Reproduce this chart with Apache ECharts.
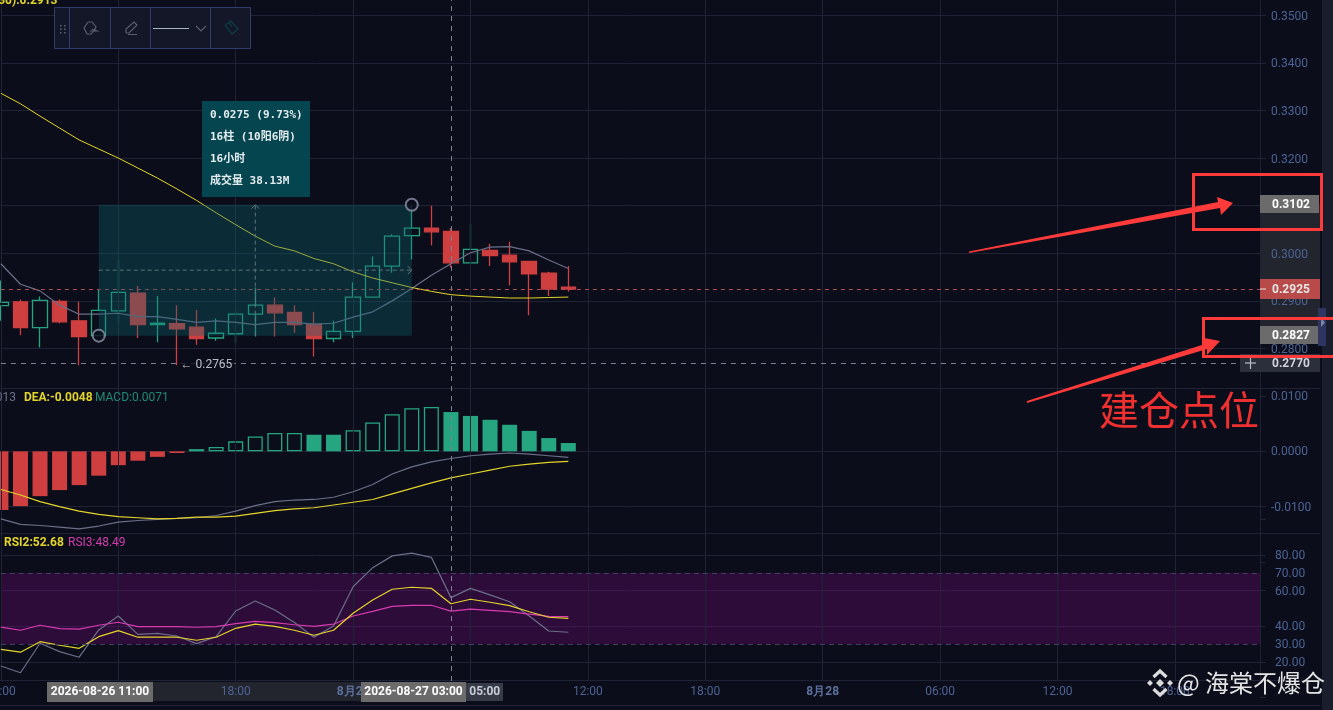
<!DOCTYPE html>
<html><head><meta charset="utf-8">
<style>html,body{margin:0;padding:0;background:#0b0e1a}#c{width:1333px;height:710px}</style>
<script src="https://cdn.jsdelivr.net/npm/echarts@6/dist/echarts.min.js"></script>
</head><body><div id="c"></div>
<script>
const hours=[6,7,8,9,10,11,12,13,14,15,16,17,18,19,20,21,22,23,24,25,26,27,28,29,30,31,32,33,34,35];
const opens=[.2890,.2898,.2844,.2899,.2858,.2827,.2879,.2916,.2850,.2852,.2845,.2822,.2831,.2872,.2891,.2876,.2851,.2821,.2836,.2908,.2973,.3037,.3053,.3046,.2980,.3006,.2996,.2983,.2958,.2929];
const closes=[.2897,.2844,.2901,.2856,.2825,.2880,.2918,.2850,.2853,.2841,.2821,.2832,.2872,.2891,.2875,.2850,.2821,.2836,.2908,.2973,.3036,.3053,.3045,.2980,.3008,.2995,.2982,.2957,.2925,.2925];
const lows=[.2858,.2828,.2802,.2853,.2765,.2827,.2854,.2822,.2813,.2765,.2808,.2816,.2812,.2825,.2825,.2833,.2783,.2813,.2822,.2908,.2959,.2987,.3017,.2970,.2980,.2973,.2933,.2870,.2910,.2919];
const highs=[.2943,.2903,.2909,.2903,.2898,.2925,.2987,.2931,.2910,.2891,.2881,.2863,.2879,.2928,.2907,.2891,.2877,.2858,.2939,.2993,.3040,.3102,.3100,.3053,.3061,.3020,.3024,.2983,.2961,.2973];
const maFast=[.2978,.2935,.2921,.2891,.2872,.2872,.2874,.2867,.2867,.2861,.2855,.2858,.2855,.2850,.2855,.2855,.2851,.2853,.2866,.2877,.2900,.2926,.2954,.2978,.3001,.3013,.3014,.3005,.2986,.2968];
const maSlow=[.3336,.3314,.3288,.3263,.3238,.3219,.3200,.3179,.3158,.3135,.3111,.3085,.3060,.3036,.3015,.3005,.2989,.2978,.2961,.2948,.2938,.2928,.2920,.2913,.2910,.2908,.2906,.2906,.2907,.2908];
const macdHist=[-.0106,-.0099,-.0081,-.0070,-.0061,-.0044,-.0025,-.0017,-.0010,-.0003,.0004,.0008,.0018,.0027,.0033,.0033,.0030,.0030,.0038,.0052,.0067,.0078,.0080,.0071,.0064,.0057,.0048,.0037,.0024,.0015];
const macdSolid=[1,1,1,1,1,1,1,1,1,1,1,0,0,0,0,0,1,1,0,0,0,0,0,1,1,1,1,1,1,1];
const dif=[-.0122,-.0132,-.0134,-.0137,-.0140,-.0135,-.0128,-.0125,-.0123,-.0121,-.0120,-.0116,-.0108,-.0098,-.0091,-.0088,-.0087,-.0083,-.0073,-.0060,-.0041,-.0028,-.0019,-.0013,-.0008,-.0005,-.0003,-.0005,-.0008,-.0011];
const dea=[-.0069,-.0079,-.0091,-.0100,-.0108,-.0114,-.0118,-.0120,-.0122,-.0121,-.0119,-.0119,-.0117,-.0112,-.0107,-.0104,-.0102,-.0097,-.0092,-.0087,-.0077,-.0067,-.0057,-.0048,-.0041,-.0034,-.0027,-.0023,-.0020,-.0018];
const rsi1=[17.8,14.0,30.5,25.8,22.7,38.0,45.8,35.5,36.1,34.6,30.3,34.2,48.6,54.2,49.2,42.1,33.9,40.2,62.2,72.9,79.5,81.0,78.7,56.1,61.3,57.6,53.8,45.8,37.4,36.7];
const rsi2=[27.1,25.5,31.4,29.4,27.7,34.2,37.6,33.9,33.9,33.9,32.2,33.9,38.9,41.2,40.0,37.8,35.0,37.8,47.3,54.8,60.8,61.9,61.3,52.68,55.2,53.5,51.6,48.2,45.1,44.5];
const rsi3=[39.6,37.8,40.6,38.7,38.4,40.6,42.3,39.8,39.8,39.8,39.5,39.8,41.5,42.8,42.1,40.9,40.0,41.2,45.8,48.4,51.2,51.8,51.8,48.49,49.6,49.0,48.2,46.9,45.6,45.4];
const measure={startHour:11,endHour:27,low:.2827,high:.3102};
const lastPrice=.2925,crossPrice=.2770,lowPrice=.2765,lowHour=15,crossHour=29;
const rsiBand=[30,70];
const tooltipLines=['0.0275 (9.73%)','16柱 (10阳6阴)','16小时','成交量 38.13M'];

const BG='#0b0e1a',GRID='#1f2335',LAB='#4c6394',GREEN='#26a680',RED='#cf3f3f',YEL='#e3d42a',GREY='#6b6f88',MAG='#d63cae',ANN='#ff3a3a';
const XMIN=6,XMAX=70.35;
const pair=(a)=>hours.map((h,i)=>[h,a[i]]);
const labelFont={fontFamily:'Roboto',fontSize:12,color:LAB};
const richLabel=(pad)=>({a:{fontFamily:'Roboto',fontSize:12,color:LAB,padding:[pad,0,0,0]}});
function hiddenX(i){return {type:'value',gridIndex:i,min:XMIN,max:XMAX,show:false};}
function yCommon(i,min,max,interval,fmt,margin,pad){return {type:'value',gridIndex:i,position:'right',min,max,interval,
  axisLine:{show:false},axisTick:{show:true,length:6,lineStyle:{color:GRID}},
  splitLine:{show:true,showMinLine:false,showMaxLine:false,lineStyle:{color:GRID,width:1}},
  axisLabel:Object.assign({},labelFont,{formatter:(v)=>{const s=fmt(v);return s?'{a|'+s+'}':'';},rich:richLabel(pad),margin,hideOverlap:false,showMinLabel:true,showMaxLabel:true})};}

const T=(x,y,text,fill,font,extra)=>Object.assign({type:'text',z:60,x,y:y+1.5,style:Object.assign({text,fill,font,align:'left',textAlign:'left',verticalAlign:'middle',textVerticalAlign:'middle'},extra&&extra.style||{})},extra&&extra.el||{});
const R=(x,y,w,h,fill,z,stroke,lw)=>({type:'rect',z:z==null?50:z,shape:{x,y,width:w,height:h},style:{fill:fill||'none',stroke:stroke||null,lineWidth:lw||0}});
const L=(pts,stroke,lw,z)=>({type:'polyline',z:z==null?61:z,shape:{points:pts},style:{fill:'none',stroke,lineWidth:lw||1}});
const P=(pts,fill,z)=>({type:'polygon',z:z==null?70:z,shape:{points:pts},style:{fill}});
const graphics=[
  // separators
  L([[0,388.5],[1320,388.5]],GRID,1,1),L([[0,533.5],[1320,533.5]],GRID,1,1),L([[0,680.5],[1320,680.5]],GRID,1,1),L([[0,705.5],[1320,705.5]],GRID,1,1),
  // right strip
  R(1322,0,11,710,'#1a1d2b',1),
  // measure range on axes
  R(1260,204,60,131,'#22252e',-1),
  R(99,682,314,19,'#22252e',-1),
  // legends
  T(-6,-1,'(30):0.2913',YEL,'bold 12px Roboto'),
  T(-45,396,'DIF:-0.0013',GREY,'12px Roboto'),
  T(24,396,'DEA:-0.0048',YEL,'bold 12px Roboto'),
  T(95,396,'MACD:0.0071','#1f8a75','12px Roboto'),
  T(4,541,'RSI2:52.68',YEL,'bold 12px Roboto'),
  T(68,541,'RSI3:48.49',MAG,'12px Roboto'),
  // toolbar
  R(54.5,7.5,196,41,'#131728',55,'#333b6b',1),
  L([[69.5,7.5],[69.5,48.5]],'#333b6b',1,56),L([[110.5,7.5],[110.5,48.5]],'#333b6b',1,56),L([[150.5,7.5],[150.5,48.5]],'#333b6b',1,56),L([[210.5,7.5],[210.5,48.5]],'#333b6b',1,56),
  ...[[60,25],[64,25],[60,28.5],[64,28.5],[60,32],[64,32]].map(p=>R(p[0],p[1],1.6,1.6,'#5a5f75',57)),
  L([[88,22],[92,22],[96,27],[94,31],[91,34],[87,34],[84,28],[88,22]],'#5a5e6e',1.2,57),
  L([[90,31],[97,31],[92,29]],'#5a5e6e',1.2,57),
  L([[126,33],[126,29],[134,22],[137,25],[129,33],[126,33]],'#5a5e6e',1.2,57),L([[128,34.5],[137,34.5]],'#5a5e6e',1,57),
  L([[153,28.5],[189,28.5]],'#a6b8bd',1,57),
  L([[196,26],[201,31],[206,26]],'#5a5e6e',1.2,57),
  L([[225,25],[231,21],[238,29],[232,34],[225,25]],'#0f3c44',1.3,57),L([[229,22],[232,27]],'#0f3c44',1.3,57),
  // tooltip
  R(202,101,108,96,'#05454f',58),
  T(210,113.5,tooltipLines[0],'#e4ecee','bold 11px "DejaVu Sans Mono","Noto Sans CJK SC"'),
  T(210,135.5,tooltipLines[1],'#e4ecee','bold 11px "DejaVu Sans Mono","Noto Sans CJK SC"'),
  T(210,157.5,tooltipLines[2],'#e4ecee','bold 11px "DejaVu Sans Mono","Noto Sans CJK SC"'),
  T(210,179.5,tooltipLines[3],'#e4ecee','bold 11px "DejaVu Sans Mono","Noto Sans CJK SC"'),
  // price tags
  R(1260,279,60,20,'#b84a4a',55),L([[1260,289],[1266,289]],'#e8e8e8',1,56),T(1272,288.5,'0.2925','#e6e6e6','bold 12px Roboto'),
  R(1260,195,59,18,'#6b6b6b',55),T(1272,203.5,'0.3102','#ffffff','bold 12px Roboto'),
  R(1260,326,59,18,'#6b6b6b',55),T(1272,334.5,'0.2827','#ffffff','bold 12px Roboto'),
  R(1240,354,80,18,'#2b2f3b',55),L([[1245,363],[1256,363]],'#b8bcc6',1.2,56),L([[1250.5,358],[1250.5,369]],'#b8bcc6',1.2,56),T(1272,362.5,'0.2770','#d0d3da','bold 12px Roboto'),
  R(1318,308,8,38,'#2f3560',56),P([[1321,318],[1321,327],[1325,322.5]],'#7d84a8',57),
  // x crosshair labels
  R(399,683,104,18,'#363b47',52),T(451,690.5,'2026-08-27 05:00','#c7ccd6','bold 12px Roboto',{el:{z:53},style:{align:'center',textAlign:'center'}}),
  R(47,682,106,20,'#6b6b6b',55),T(100,690.5,'2026-08-26 11:00','#ffffff','bold 12px Roboto',{style:{align:'center',textAlign:'center'}}),
  R(361,682,105,20,'#6b6b6b',55),T(413.5,690.5,'2026-08-27 03:00','#ffffff','bold 12px Roboto',{style:{align:'center',textAlign:'center'}}),
  // annotations
  R(1193.5,174.5,128,55,'none',70,ANN,3),
  L([[1340,318.5],[1203.5,318.5],[1203.5,356.5],[1340,356.5]],ANN,3,70),
  P([[969,251.5],[1218,202],[1217,197],[1233,203],[1221,215],[1220,208],[969,253]],ANN),
  P([[1027,401],[1205,344],[1204,338],[1220,341],[1207,355],[1207,349],[1027,403]],ANN),
  T(1099,408.5,'建仓点位','#f03030','40px "Noto Sans CJK SC"',{el:{z:70}}),
  // watermark
  P([[1160,679],[1164,683],[1160,687],[1156,683]],'#dcdcdc',80),
  P([[1150,680],[1153,683],[1150,686],[1147,683]],'#dcdcdc',80),
  P([[1170,680],[1173,683],[1170,686],[1167,683]],'#dcdcdc',80),
  L([[1153.5,677],[1160,671],[1166.5,677]],'#dcdcdc',3.2,80),
  L([[1153.5,689],[1160,695],[1166.5,689]],'#dcdcdc',3.2,80),
  T(1177,681.5,'@ 海棠不爆仓','#e4e4e4','24px "Noto Sans CJK SC"',{el:{z:80},style:{shadowBlur:2,shadowColor:'#000',shadowOffsetX:1,shadowOffsetY:1}})
];

const chart=echarts.init(document.getElementById('c'),null,{renderer:'canvas',width:1333,height:710});
const xFmt=(v)=>{if(v%6!==0)return '';if(v%24===0)return '{d|8月'+(26+v/24)+'}';const h=v%24;return (h<10?'0':'')+h+':00';};
const gridBase={left:.9,width:1259.1,outerBoundsMode:'none',containLabel:false};
const priceLine=(value,color,dash)=>({type:'line',xAxisIndex:1,yAxisIndex:1,data:[],silent:true,z:3,
  markLine:{silent:true,symbol:'none',precision:4,label:{show:false},animation:false,lineStyle:{color,type:dash,width:1},data:[{yAxis:value}]}});
chart.setOption({
  animation:false,backgroundColor:BG,
  grid:[
    Object.assign({top:0,height:681},gridBase),
    Object.assign({top:-32.4,height:428.5},gridBase),
    Object.assign({top:396,height:166},gridBase),
    Object.assign({top:519.3,height:178.4},gridBase)
  ],
  xAxis:[
    {type:'value',gridIndex:0,min:XMIN,max:XMAX,interval:6,z:3,
      axisLine:{show:false},axisTick:{show:false},
      splitLine:{show:true,showMaxLine:false,lineStyle:{color:GRID,width:1}},
      axisLabel:{fontFamily:'Roboto',fontSize:12,color:LAB,margin:5,formatter:xFmt,showMinLabel:true,showMaxLabel:false,hideOverlap:false,
        rich:{d:{fontFamily:'Roboto',fontSize:12,fontWeight:'bold',color:'#5d6f9c'}}}},
    hiddenX(1),hiddenX(2),hiddenX(3)
  ],
  yAxis:[
    {type:'value',gridIndex:0,position:'right',min:0,max:1,axisLine:{show:true,onZero:false,lineStyle:{color:GRID}},axisTick:{show:false},axisLabel:{show:false},splitLine:{show:false}},
    yCommon(1,.27,.36,.01,(v)=>{const r=Math.round(v*100)/100;return (r===.27||r===.36)?'':v.toFixed(4);},11,3),
    yCommon(2,-.02,.01,.01,(v)=>Math.abs(v+.02)<1e-9?'':(Math.abs(v)<1e-9?'0.0000':v.toFixed(4)),11,2),
    yCommon(3,0,100,20,(v)=>(v===0||v===100)?'':v.toFixed(2),15,2)
  ],
  series:[
    {type:'line',xAxisIndex:0,yAxisIndex:0,data:[],silent:true,z:6,
      markLine:{silent:true,symbol:'none',label:{show:false},animation:false,lineStyle:{color:'#7d8196',type:[5,5],width:1},data:[{xAxis:crossHour}]}},
    priceLine(lastPrice,'#b04a52',[4,4]),
    priceLine(crossPrice,'#7d8196',[5,5]),
    {type:'candlestick',xAxisIndex:1,yAxisIndex:1,barWidth:15,
      data:hours.map((h,i)=>[h,opens[i],closes[i],lows[i],highs[i]]),
      itemStyle:{color:'rgba(0,0,0,0)',color0:RED,borderColor:GREEN,borderColor0:RED,borderWidth:1.3}},
    {type:'line',xAxisIndex:1,yAxisIndex:1,data:pair(maFast),showSymbol:false,lineStyle:{color:GREY,width:1.2},z:3},
    {type:'line',xAxisIndex:1,yAxisIndex:1,data:pair(maSlow),showSymbol:false,lineStyle:{color:YEL,width:1},z:3},
    {type:'custom',xAxisIndex:1,yAxisIndex:1,z:5,silent:true,clip:false,
      data:[[measure.startHour,measure.low,measure.endHour,measure.high]],
      encode:{x:[0,2],y:[1,3]},
      renderItem:(p,api)=>{
        const a=api.coord([api.value(0),api.value(1)]),b=api.coord([api.value(2),api.value(3)]);
        const mx=api.coord([(api.value(0)+api.value(2))/2,api.value(1)])[0],my=(a[1]+b[1])/2;
        const dash={stroke:'#5f7478',lineWidth:1,lineDash:[4,3],fill:null};
        const solid={stroke:'#5f7478',lineWidth:1,fill:null};
        return {type:'group',children:[
          {type:'rect',shape:{x:a[0],y:b[1],width:b[0]-a[0],height:a[1]-b[1]},style:{fill:'rgba(11,100,112,0.34)'}},
          {type:'line',shape:{x1:a[0],y1:my,x2:b[0],y2:my},style:dash},
          {type:'line',shape:{x1:mx,y1:a[1],x2:mx,y2:b[1]},style:dash},
          {type:'polyline',shape:{points:[[b[0]-4,my-4],[b[0],my],[b[0]-4,my+4]]},style:solid},
          {type:'polyline',shape:{points:[[mx-4,b[1]+4],[mx,b[1]],[mx+4,b[1]+4]]},style:solid}
        ]};
      }},
    {type:'scatter',xAxisIndex:1,yAxisIndex:1,z:8,symbolSize:12,silent:true,
      itemStyle:{color:BG,borderColor:'#8e92aa',borderWidth:2},
      data:[[measure.startHour,measure.low],[measure.endHour,measure.high]]},
    {type:'scatter',xAxisIndex:1,yAxisIndex:1,z:8,symbolSize:1,silent:true,itemStyle:{color:'rgba(0,0,0,0)'},
      label:{show:true,position:'right',distance:3,formatter:'← '+lowPrice.toFixed(4),color:'#e6e9f0',fontFamily:'Roboto',fontSize:12,backgroundColor:BG,padding:[1,2,1,0]},
      data:[[lowHour,lowPrice]]},
    {type:'bar',xAxisIndex:2,yAxisIndex:2,barWidth:15,
      data:hours.map((h,i)=>{const up=macdHist[i]>=0;const solid=macdSolid[i];
        return {value:[h,macdHist[i]],itemStyle:solid?{color:up?GREEN:RED}:{color:'rgba(0,0,0,0)',borderColor:GREEN,borderWidth:1.3}};})},
    {type:'line',xAxisIndex:2,yAxisIndex:2,data:pair(dif),showSymbol:false,lineStyle:{color:GREY,width:1.2},z:3},
    {type:'line',xAxisIndex:2,yAxisIndex:2,data:pair(dea),showSymbol:false,lineStyle:{color:YEL,width:1.2},z:3},
    {type:'line',xAxisIndex:3,yAxisIndex:3,data:pair(rsi1),showSymbol:false,lineStyle:{color:GREY,width:1.2},z:3,
      markArea:{silent:true,itemStyle:{color:'rgba(113,8,120,0.35)'},label:{show:false},data:[[{yAxis:rsiBand[1]},{yAxis:rsiBand[0]}]]},
      markLine:{silent:true,symbol:'none',lineStyle:{color:'#3d4160',type:[5,4],width:1},
        label:{show:true,position:'end',distance:15,align:'left',rich:richLabel(2),formatter:(p)=>'{a|'+Number(p.value).toFixed(2)+'}'},
        data:[{yAxis:rsiBand[0]},{yAxis:rsiBand[1]}]}},
    {type:'line',xAxisIndex:3,yAxisIndex:3,data:pair(rsi3),showSymbol:false,lineStyle:{color:MAG,width:1.2},z:3},
    {type:'line',xAxisIndex:3,yAxisIndex:3,data:pair(rsi2),showSymbol:false,lineStyle:{color:YEL,width:1.2},z:4}
  ],
  graphic:{elements:graphics}
});
</script></body></html>
